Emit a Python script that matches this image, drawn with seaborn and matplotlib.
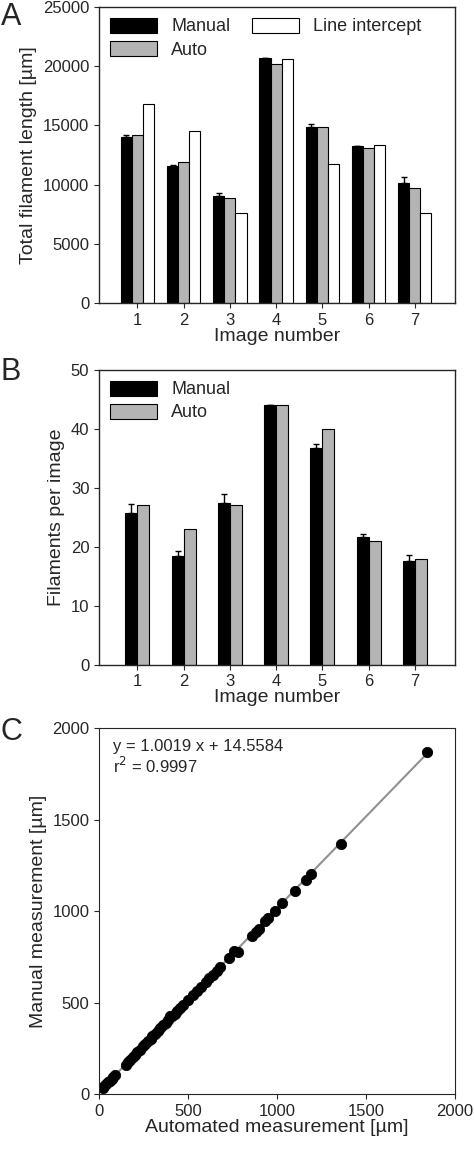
import numpy as np
import pandas as pd
import seaborn as sns
import matplotlib.pyplot as plt

# Panel A: total filament length
images = ['1', '2', '3', '4', '5', '6', '7']
len_manual = [14000, 11550, 9000, 20650, 14850, 13250, 10150]
len_manual_err = [150, 100, 250, 0, 250, 0, 450]
len_auto = [14150, 11900, 8900, 20150, 14900, 13100, 9750]
len_line = [16800, 14550, 7600, 20600, 11700, 13300, 7600]

# Panel B: filaments per image
cnt_manual = [25.8, 18.5, 27.5, 44, 36.8, 21.7, 17.5]
cnt_manual_err = [1.5, 0.7, 1.5, 0, 0.6, 0.5, 1.1]
cnt_auto = [27, 23, 27, 44, 40, 21, 18]

# Panel C: manual vs automated measurement
auto_meas = [20, 30, 40, 50, 60, 70, 80, 90, 150, 160, 175, 190, 200, 215, 230,
             245, 260, 275, 290, 300, 315, 330, 345, 360, 375, 390, 400, 410,
             425, 440, 455, 470, 500, 530, 550, 570, 600, 620, 640, 660, 680,
             730, 760, 780, 860, 880, 900, 930, 950, 990, 1030, 1100, 1160,
             1190, 1360, 1840]
manual_meas = [35, 45, 55, 65, 75, 85, 95, 105, 160, 175, 190, 205, 215, 230, 245,
               262, 275, 290, 305, 318, 332, 345, 360, 378, 392, 405, 430, 428,
               440, 455, 470, 488, 515, 545, 565, 585, 615, 635, 650, 675, 695,
               745, 785, 775, 865, 885, 905, 945, 965, 1000, 1045, 1110, 1170,
               1205, 1365, 1870]
fit_slope, fit_icpt = 1.0019, 14.5584

sns.set_style('ticks')
plt.rcParams['font.family'] = ['Liberation Sans', 'DejaVu Sans']
plt.rcParams['font.size'] = 12

fig = plt.figure(figsize=(4.74, 11.52), dpi=100)
axA = fig.add_axes([0.209, 0.737, 0.751, 0.257])
axB = fig.add_axes([0.209, 0.423, 0.751, 0.256])
axC = fig.add_axes([0.209, 0.050, 0.751, 0.318])


def bars(ax, df, colors, errs, width):
    sns.barplot(data=df, x='Image', y='Value', hue='Series', palette=colors,
                edgecolor='black', linewidth=0.8, width=width, errorbar=None,
                ax=ax)
    # error bars on the Manual series (first hue level)
    pats = ax.patches[:len(images)]
    xs = [p.get_x() + p.get_width() / 2 for p in pats]
    ys = [p.get_height() for p in pats]
    ax.errorbar(xs, ys, yerr=[np.zeros(len(errs)), errs], fmt='none',
                ecolor='black', elinewidth=1, capsize=2)
    ax.set_xlim(-0.83, 6.87)
    for s in ax.spines.values():
        s.set_visible(True)
        s.set_linewidth(1)
    ax.tick_params(direction='out', labelsize=12)


dfA = pd.DataFrame({
    'Image': images * 3,
    'Value': len_manual + len_auto + len_line,
    'Series': ['Manual'] * 7 + ['Auto'] * 7 + ['Line intercept'] * 7,
})
bars(axA, dfA, ['black', '#b4b4b4', 'white'], len_manual_err, 0.72)
axA.set_ylim(0, 25000)
axA.set_yticks(range(0, 25001, 5000))
axA.set_xlabel('Image number', fontsize=14, labelpad=0)
axA.set_ylabel('Total filament length [\u00b5m]', fontsize=14)
h, l = axA.get_legend_handles_labels()
axA.legend([h[0], h[1], h[2]], [l[0], l[1], l[2]], ncol=2, frameon=False,
           loc='upper left', fontsize=13, handlelength=2.6, handleheight=0.9,
           columnspacing=1.2, borderaxespad=0.2, labelspacing=0.3)

dfB = pd.DataFrame({
    'Image': images * 2,
    'Value': cnt_manual + cnt_auto,
    'Series': ['Manual'] * 7 + ['Auto'] * 7,
})
bars(axB, dfB, ['black', '#b4b4b4'], cnt_manual_err, 0.52)
axB.set_ylim(0, 50)
axB.set_yticks(range(0, 51, 10))
axB.set_xlabel('Image number', fontsize=14, labelpad=0)
axB.set_ylabel('Filaments per image', fontsize=14)
axB.legend(frameon=False, loc='upper left', fontsize=13, handlelength=2.6,
           handleheight=0.9, borderaxespad=0.2, labelspacing=0.3)

fx = np.array([0, max(auto_meas)])
axC.plot(fx, fit_slope * fx + fit_icpt, color='#909090', lw=1.5, zorder=1)
sns.scatterplot(x=auto_meas, y=manual_meas, color='black', s=55,
                edgecolor='black', ax=axC, zorder=2)
axC.set_xlim(0, 2000)
axC.set_ylim(0, 2000)
axC.set_xticks(range(0, 2001, 500))
axC.set_yticks(range(0, 2001, 500))
axC.tick_params(labelsize=12)
for s in axC.spines.values():
    s.set_visible(True)
axC.set_xlabel('Automated measurement [\u00b5m]', fontsize=14, labelpad=0)
axC.set_ylabel('Manual measurement [\u00b5m]', fontsize=14)
axC.text(0.04, 0.97, 'y = 1.0019 x + 14.5584\nr$^2$ = 0.9997',
         transform=axC.transAxes, va='top', fontsize=12, linespacing=1.1)

for ax, lab, y in [(axA, 'A', 0.998), (axB, 'B', 0.69), (axC, 'C', 0.378)]:
    fig.text(0.002, y, lab, fontsize=22, va='top')

fig.savefig('out.png', dpi=100)
